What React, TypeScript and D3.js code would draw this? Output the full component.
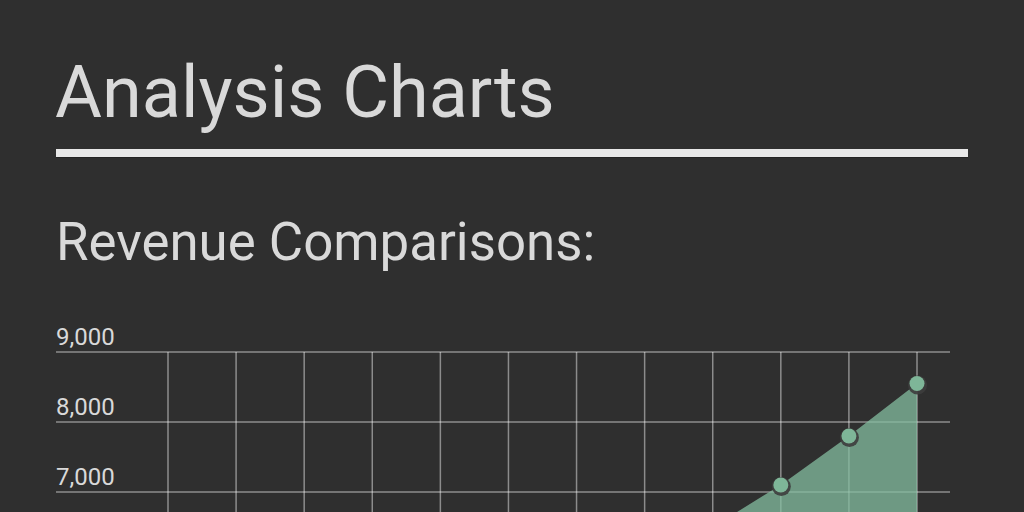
import React, { useEffect, useRef } from "react";
import * as d3 from "d3";

const months = ["Jan", "Feb", "Mar", "Apr", "May", "Jun", "Jul", "Aug", "Sep", "Oct", "Nov", "Dec"];
const revenue = [4200, 3600, 4800, 4300, 5200, 4900, 5700, 6100, 6500, 7100, 7800, 8550];
const yTicks = [7000, 8000, 9000];

const width = 1024;
const height = 512;
const bg = "#2f2f2f";
const textColor = "#d9d9d9";

const App: React.FC = () => {
  const svgRef = useRef<SVGSVGElement | null>(null);

  useEffect(() => {
    if (!svgRef.current) return;
    const svg = d3.select(svgRef.current);
    svg.selectAll("*").remove();

    svg.append("rect").attr("width", width).attr("height", height).attr("fill", bg);

    // Heading
    svg
      .append("text")
      .attr("x", 55)
      .attr("y", 117)
      .attr("font-size", 72)
      .attr("font-weight", 400)
      .attr("fill", textColor)
      .text("Analysis Charts");

    svg.append("rect").attr("x", 56).attr("y", 150).attr("width", 912).attr("height", 8).attr("fill", "#232323");
    svg.append("rect").attr("x", 56).attr("y", 149).attr("width", 912).attr("height", 8).attr("fill", "#e8e8e8");

    svg
      .append("text")
      .attr("x", 56)
      .attr("y", 260)
      .attr("font-size", 52.8)
      .attr("fill", textColor)
      .text("Revenue Comparisons:");

    // Chart (continues below the fold)
    const x = d3.scalePoint<string>().domain(months).range([168, 917]);
    const y = d3.scaleLinear().domain([0, 9000]).range([982, 352]);
    const g = svg.append("g");

    g.selectAll(".hgrid")
      .data(yTicks)
      .enter()
      .append("line")
      .attr("x1", 56)
      .attr("x2", 950)
      .attr("y1", (d) => y(d))
      .attr("y2", (d) => y(d))
      .attr("stroke", "rgba(255,255,255,0.45)")
      .attr("stroke-width", 1.5);

    g.selectAll(".vgrid")
      .data(months)
      .enter()
      .append("line")
      .attr("x1", (d) => x(d) || 0)
      .attr("x2", (d) => x(d) || 0)
      .attr("y1", y(9000))
      .attr("y2", height)
      .attr("stroke", "rgba(255,255,255,0.45)")
      .attr("stroke-width", 1.5);

    g.selectAll(".ylab")
      .data(yTicks)
      .enter()
      .append("text")
      .attr("x", 56)
      .attr("y", (d) => y(d) - 7)
      .attr("font-size", 24)
      .attr("fill", textColor)
      .text((d) => d3.format(",")(d));

    const area = d3
      .area<number>()
      .x((_, i) => x(months[i]) || 0)
      .y0(y(0))
      .y1((d) => y(d));

    g.append("path").datum(revenue).attr("d", area).attr("fill", "rgb(132,190,160)").attr("opacity", 0.75);

    // Points
    const pts = g
      .selectAll(".pt")
      .data(revenue)
      .enter()
      .append("g")
      .attr("transform", (d, i) => `translate(${x(months[i])},${y(d)})`);
    pts.append("circle").attr("cx", 0.5).attr("cy", 1.5).attr("r", 9.5).attr("fill", "#3d3d3d").attr("opacity", 0.9);
    pts.append("circle").attr("r", 7.5).attr("fill", "rgb(126,182,152)");
  }, []);

  return (
    <div style={{ background: bg }}>
      <style>{`body{margin:0;background:${bg};overflow:hidden;}`}</style>
      <svg
        ref={svgRef}
        width={width}
        height={height}
        style={{ display: "block", fontFamily: "Roboto, sans-serif" }}
        role="img"
        aria-label="Revenue comparisons chart"
      />
    </div>
  );
};

export default App;
